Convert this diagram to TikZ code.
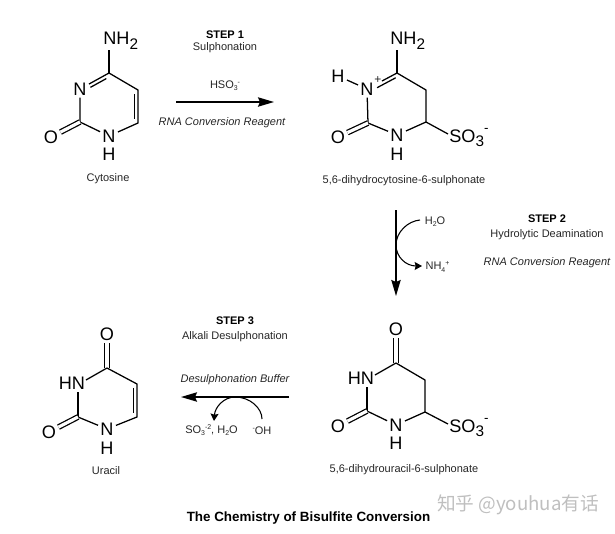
\documentclass[tikz,border=0pt]{standalone}
\usepackage{fontspec}
\setmainfont{Liberation Sans}
\newfontfamily\cjkwm{Noto Sans CJK SC}
\usetikzlibrary{calc,arrows.meta}
\tikzset{
  bond/.style={line width=0.95pt},
  dblbond/.style={bond,double,double distance=2.4pt},
  rxn/.style={line width=1.15pt,-{Stealth[length=12pt,width=7pt,inset=1.5pt]}},
  curved/.style={line width=0.8pt},
  curvedtip/.style={line width=0.8pt,-{Stealth[length=5.5pt,width=6pt,inset=0.8pt]}},
  atom/.style={font=\fontsize{13.6}{15}\selectfont,inner sep=1.6pt,text=black},
  small/.style={font=\fontsize{8.25}{10}\selectfont,inner sep=0pt,text=black!85,yshift=-1.1pt},
  stepname/.style={small,font=\fontsize{8.25}{10}\selectfont\bfseries,text=black},
  reagent/.style={small,font=\fontsize{8.25}{10}\selectfont\itshape}
}
\newcommand{\innerbond}[5]{\draw[bond] ($($(#1)!#3!(#2)$)!2.7pt!#5:(#2)$) -- ($($(#1)!#4!(#2)$)!2.7pt!#5:(#2)$);}
\newcommand{\atsub}[1]{\raisebox{-3.6pt}{\fontsize{11.5}{12}\selectfont #1}}
\newcommand{\atminus}{\raisebox{7.5pt}{\fontsize{10}{10}\selectfont -}}
\newcommand{\smsub}[1]{\raisebox{-1.6pt}{\fontsize{5.2}{6}\selectfont #1}}
\newcommand{\smsup}[1]{\raisebox{3pt}{\fontsize{5.2}{6}\selectfont #1}}
\begin{document}
\begin{tikzpicture}[x=0.75pt,y=-0.75pt]
\useasboundingbox (0,0) rectangle (615,533);
% --- Cytosine
\node[atom,anchor=west] (cyNH) at (101,40.5) {NH\atsub{2}};
\coordinate (cyC4) at (109,73);
\coordinate (cyC5) at (138,90);
\coordinate (cyC6) at (138,123);
\node[atom] (cyN1) at (109,136) {N};
\coordinate (cyC2) at (80,122);
\node[atom] (cyN3) at (80,89) {N};
\node[atom] (cyO) at (51,137) {O};
\node[atom] (cyH) at (109,154) {H};
\coordinate (cyNb) at (109,50);
\draw[bond] (cyC4) -- (cyNb);
\draw[bond] (cyC4) -- (cyC5) -- (cyC6) -- (cyN1);
\draw[bond] (cyN1) -- (cyC2) -- (cyN3) -- (cyC4);
\innerbond{cyN3}{cyC4}{0.3}{0.85}{-90}
\innerbond{cyC5}{cyC6}{0.12}{0.88}{-90}
\draw[dblbond] (cyC2) -- (cyO);
\node[small] (cyL) at (108,177) {Cytosine};
% --- dihydrocytosine sulphonate
\node[atom,anchor=west] (dcNH) at (388,40.5) {NH\atsub{2}};
\coordinate (dcC4) at (397,73);
\coordinate (dcC5) at (426,90);
\coordinate (dcC6) at (426,122);
\node[atom] (dcN1) at (397,135) {N};
\coordinate (dcC2) at (368,123);
\node[atom] (dcN3) at (367,89) {N};
\node[atom] (dcHa) at (338,76) {H};
\node[small,font=\fontsize{9}{10}\selectfont] (dcPlus) at (378,79) {+};
\node[atom] (dcO) at (338,137) {O};
\node[atom] (dcH) at (397,154) {H};
\node[atom,anchor=west] (dcS) at (447,137.5) {SO\atsub{3}\atminus};
\coordinate (dcNb) at (397,50);
\draw[bond] (dcC4) -- (dcNb);
\draw[bond] (dcC4) -- (dcC5) -- (dcC6) -- (dcN1);
\draw[bond] (dcN1) -- (dcC2) -- (dcN3);
\draw[bond] ($(dcN3)!0.5!(dcC4)$) -- (dcC4);
\innerbond{dcN3}{dcC4}{0.28}{0.9}{-90}
\draw[bond] (dcN3) -- (dcHa);
\draw[dblbond] (dcC2) -- (dcO);
\coordinate (dcSb) at (448,134);
\draw[bond] (dcC6) -- (dcSb);
\node[small] (dcL) at (404,179) {5,6-dihydrocytosine-6-sulphonate};
% --- dihydrouracil sulphonate
\node[atom] (duOa) at (396,329) {O};
\coordinate (duC4) at (396,363);
\coordinate (duC5) at (425,380);
\coordinate (duC6) at (425,412);
\node[atom] (duN1) at (396,425) {N};
\node[atom] (duH) at (396,443) {H};
\coordinate (duC2) at (367,411);
\node[atom] (duN3) at (361,378) {HN};
\node[atom] (duOb) at (338,426) {O};
\node[atom,anchor=west] (duS) at (447,427.5) {SO\atsub{3}\atminus};
\coordinate (duNb) at (375,375);
\draw[dblbond] (duC4) -- (duOa);
\draw[bond] (duC4) -- (duC5) -- (duC6) -- (duN1) -- (duC2);
\draw[bond] (duC2) -- (duC2 |- duN3.south);
\draw[bond] (duNb) -- (duC4);
\draw[dblbond] (duC2) -- (duOb);
\coordinate (duSb) at (448,424);
\draw[bond] (duC6) -- (duSb);
\node[small] (duL) at (404,468) {5,6-dihydrouracil-6-sulphonate};
% --- Uracil
\node[atom] (urOa) at (107,334) {O};
\coordinate (urC4) at (107,368);
\coordinate (urC5) at (137,384);
\coordinate (urC6) at (137,417);
\node[atom] (urN1) at (107,429) {N};
\node[atom] (urH) at (107,448) {H};
\coordinate (urC2) at (78,417);
\node[atom] (urN3) at (72,383) {HN};
\node[atom] (urOb) at (49,432) {O};
\coordinate (urNb) at (86,380);
\draw[dblbond] (urC4) -- (urOa);
\draw[bond] (urC4) -- (urC5) -- (urC6) -- (urN1) -- (urC2);
\innerbond{urC5}{urC6}{0.12}{0.88}{-90}
\draw[bond] (urC2) -- (urC2 |- urN3.south);
\draw[bond] (urNb) -- (urC4);
\draw[dblbond] (urC2) -- (urOb);
\node[small] (urL) at (106,469) {Uracil};
% --- Step 1
\node[stepname] (s1) at (225,33) {STEP 1};
\node[small] (s1a) at (225,46) {Sulphonation};
\node[small] (s1b) at (225,84) {HSO\smsub{3}\smsup{-}};
\node[reagent] (s1c) at (222,121) {RNA Conversion Reagent};
\coordinate (a1s) at (176,102);
\coordinate (a1e) at (274,102);
\draw[rxn] (a1s) -- (a1e);
% --- Step 2
\node[stepname] (s2) at (547,217) {STEP 2};
\node[small] (s2a) at (547,233) {Hydrolytic Deamination};
\node[reagent] (s2b) at (547,261) {RNA Conversion Reagent};
\coordinate (a2s) at (396,210);
\coordinate (a2e) at (396,296);
\draw[rxn] (a2s) -- (a2e);
\node[small] (s2w) at (435,220) {H\smsub{2}O};
\node[small] (s2n) at (437.5,265.5) {NH\smsub{4}\smsup{+}};
\coordinate (s2ws) at (420,220);
\coordinate (s2ne) at (422,266);
\coordinate (s2m) at (396,245);
\draw[curved] (s2ws) .. controls (408,221) and (396,232) .. (s2m);
\draw[curvedtip] (s2m) .. controls (396,257) and (406,266) .. (s2ne);
% --- Step 3
\node[stepname] (s3) at (235,319) {STEP 3};
\node[small] (s3a) at (235,335) {Alkali Desulphonation};
\node[reagent] (s3b) at (235,378) {Desulphonation Buffer};
\coordinate (a3s) at (289,397);
\coordinate (a3e) at (181,397);
\draw[rxn] (a3s) -- (a3e);
\node[small] (s3l) at (211.5,429) {SO\smsub{3}\smsup{-2}, H\smsub{2}O};
\node[small] (s3r) at (262,429) {\smsup{-}OH};
\coordinate (s3rs) at (262,419);
\coordinate (s3m) at (235,397);
\coordinate (s3le) at (214,421);
\draw[curved] (s3rs) .. controls (262,408) and (250,397) .. (s3m);
\draw[curvedtip] (s3m) .. controls (224,397) and (215,407) .. (s3le);
% --- Title and mark
\node[font=\fontsize{10.05}{12}\selectfont\bfseries,inner sep=0pt,yshift=-1.2pt] (title) at (308.5,516) {The Chemistry of Bisulfite Conversion};
\node[font=\fontsize{14}{16}\selectfont,inner sep=0pt,text=black!25] (mark) at (518,505) {\cjkwm 知乎 @youhua有话};
\end{tikzpicture}
\end{document}
